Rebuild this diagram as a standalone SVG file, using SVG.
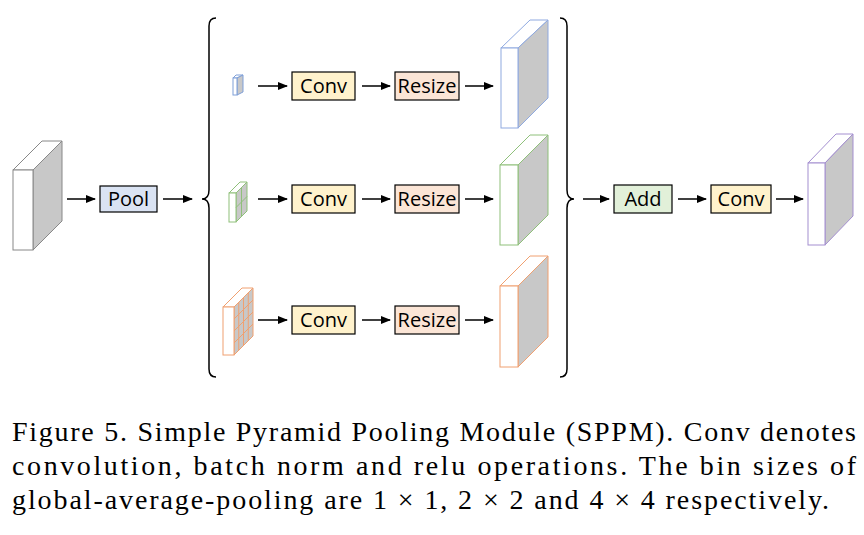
<svg xmlns="http://www.w3.org/2000/svg" width="864" height="535" viewBox="0 0 864 535">
<style>
.box{stroke:#000;stroke-width:1.2}
.lbl{font-family:"Open Sans","Liberation Sans",sans-serif;font-size:20px;text-anchor:middle}
.cap{font-family:"Liberation Serif",serif;font-size:28px}
.c{stroke:#000;stroke-width:1.5;fill:none}
.side{fill:#c8c8c8}
.front{fill:#fff}
</style>
<defs>
<marker id="ah" viewBox="0 0 10 10" refX="9" refY="5" markerWidth="7" markerHeight="7" orient="auto"><path d="M0,1 L10,5 L0,9 z" fill="#000"/></marker>
</defs>
<rect width="864" height="535" fill="#fff"/>
<g id="input" stroke="#888" stroke-width="1">
<polygon class="front" points="13,170 42,141 62,141 33,170"/>
<polygon class="side" points="33,170 62,141 62,221 33,250"/>
<rect class="front" x="13" y="170" width="20" height="80"/>
</g>
<g id="pool"><rect class="box" x="100" y="186" width="57" height="26" fill="#dae3f3"/><text class="lbl" x="128.5" y="206">Pool</text></g>
<g id="bin1" stroke="#7f9fd8" stroke-width="1">
<polygon class="front" points="233,78 236,75 243,75 237,78"/>
<polygon class="side" points="237,78 243,75 243,92 237,95"/>
<rect class="front" x="233" y="78" width="4" height="17"/>
</g>
<g id="bin2" stroke="#8fc07a" stroke-width="1">
<polygon class="front" points="229,193 240,182 247,182 236,193"/>
<polygon class="side" points="236,193 247,182 247,211 236,222"/>
<rect class="front" x="229" y="193" width="7" height="29"/>
<path d="M241.5,187.5 V216.5 M236,207.5 L247,196.5" fill="none"/>
</g>
<g id="bin3" stroke="#f0a070" stroke-width="1">
<polygon class="front" points="223,307 242,288 253,288 234,307"/>
<polygon class="side" points="234,307 253,288 253,336 234,355"/>
<rect class="front" x="223" y="307" width="11" height="48"/>
<path d="M238.75,302.25 V350.25 M243.5,297.5 V345.5 M248.25,292.75 V340.75 M234,319 L253,300 M234,331 L253,312 M234,343 L253,324" fill="none"/>
</g>
<g id="conv1"><rect class="box" x="292" y="72" width="63" height="28" fill="#fff2cc"/><text class="lbl" x="323.5" y="93">Conv</text></g>
<g id="conv2"><rect class="box" x="292" y="185" width="63" height="28" fill="#fff2cc"/><text class="lbl" x="323.5" y="206">Conv</text></g>
<g id="conv3"><rect class="box" x="292" y="306" width="63" height="28" fill="#fff2cc"/><text class="lbl" x="323.5" y="327">Conv</text></g>
<g id="resize1"><rect class="box" x="395" y="72" width="64" height="28" fill="#fbe5d6"/><text class="lbl" x="427" y="93">Resize</text></g>
<g id="resize2"><rect class="box" x="395" y="185" width="64" height="28" fill="#fbe5d6"/><text class="lbl" x="427" y="206">Resize</text></g>
<g id="resize3"><rect class="box" x="395" y="306" width="64" height="28" fill="#fbe5d6"/><text class="lbl" x="427" y="327">Resize</text></g>
<g id="up1" stroke="#8fa9e0" stroke-width="1">
<polygon class="front" points="501,48 530,20 548,20 518,48"/>
<polygon class="side" points="518,48 548,20 548,98 518,128"/>
<rect class="front" x="501" y="48" width="17" height="80"/>
</g>
<g id="up2" stroke="#8fc07a" stroke-width="1">
<polygon class="front" points="500,165 530,135 548,135 518,165"/>
<polygon class="side" points="518,165 548,135 548,215 518,245"/>
<rect class="front" x="500" y="165" width="18" height="80"/>
</g>
<g id="up3" stroke="#f0a070" stroke-width="1">
<polygon class="front" points="500,286 530,256 548,256 518,286"/>
<polygon class="side" points="518,286 548,256 548,337 518,367"/>
<rect class="front" x="500" y="286" width="18" height="81"/>
</g>
<g id="add"><rect class="box" x="614" y="185" width="58" height="28" fill="#e2f0d9"/><text class="lbl" x="643" y="206">Add</text></g>
<g id="conv4"><rect class="box" x="711" y="185" width="60" height="28" fill="#fff2cc"/><text class="lbl" x="741" y="206">Conv</text></g>
<g id="output" stroke="#a48fd0" stroke-width="1">
<polygon class="front" points="808,163 836,134 853,134 825,163"/>
<polygon class="side" points="825,163 853,134 853,216 825,245"/>
<rect class="front" x="808" y="163" width="17" height="82"/>
</g>
<g id="connectors">
<path class="c" d="M216,18 Q209,18 209,26 V190 Q209,199 202,199 Q209,199 209,208 V369 Q209,377 216,377"/>
<path class="c" d="M560,18 Q567,18 567,26 V190 Q567,199 574,199 Q567,199 567,208 V369 Q567,377 560,377"/>
<g stroke="#000" stroke-width="1.5" marker-end="url(#ah)">
<line x1="67" y1="199" x2="95" y2="199"/>
<line x1="163" y1="199" x2="192" y2="199"/>
<line x1="258" y1="86" x2="287" y2="86"/>
<line x1="258" y1="199" x2="287" y2="199"/>
<line x1="258" y1="320" x2="287" y2="320"/>
<line x1="362" y1="86" x2="390" y2="86"/>
<line x1="362" y1="199" x2="390" y2="199"/>
<line x1="362" y1="320" x2="390" y2="320"/>
<line x1="465" y1="86" x2="493" y2="86"/>
<line x1="465" y1="199" x2="493" y2="199"/>
<line x1="465" y1="320" x2="493" y2="320"/>
<line x1="583" y1="199" x2="609" y2="199"/>
<line x1="678" y1="199" x2="706" y2="199"/>
<line x1="776" y1="199" x2="803" y2="199"/>
</g>
</g>
<g id="caption">
<text class="cap" x="12" y="441" textLength="844" lengthAdjust="spacing">Figure 5. Simple Pyramid Pooling Module (SPPM). Conv denotes</text>
<text class="cap" x="12" y="475" textLength="844" lengthAdjust="spacing">convolution, batch norm and relu operations.  The bin sizes of</text>
<text class="cap" x="12" y="509" textLength="817" lengthAdjust="spacing">global-average-pooling are 1 × 1, 2 × 2 and 4 × 4 respectively.</text>
</g>
</svg>
